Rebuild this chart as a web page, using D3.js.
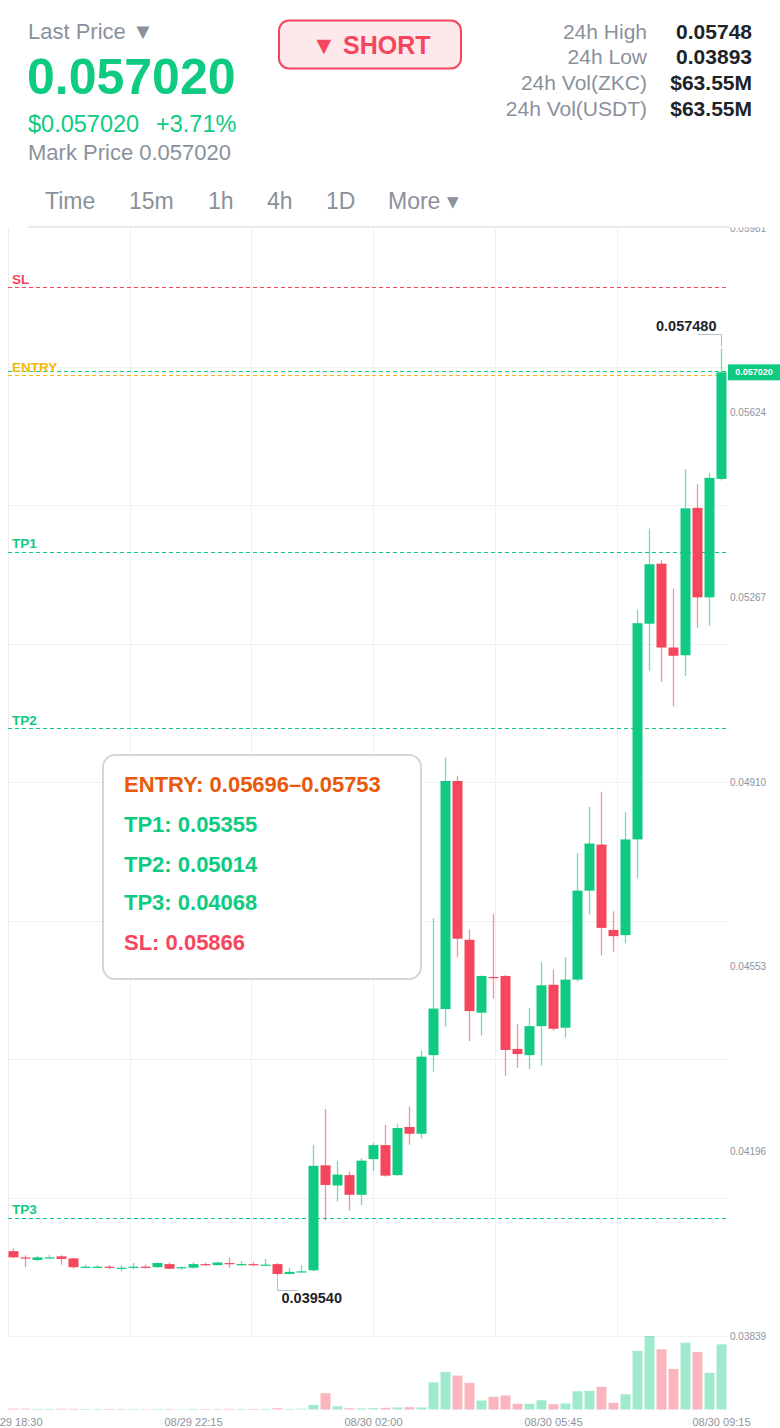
<!DOCTYPE html>
<html>
<head>
<meta charset="utf-8">
<script src="https://cdnjs.cloudflare.com/ajax/libs/d3/7.8.5/d3.min.js"></script>
<style>
html, body { margin: 0; padding: 0; background: #fff; overflow: hidden; }
svg { display: block; font-family: "Liberation Sans", Arial, Helvetica, sans-serif; }
</style>
</head>
<body>
<div id="chart"></div>
<script>
// candle data, 15m bars from 08/29 18:30 to 08/30 09:15
const openP = [0.04003, 0.03991, 0.03986, 0.03989, 0.03993, 0.03989, 0.03972, 0.03972, 0.03973, 0.03970,
  0.03972, 0.03973, 0.03972, 0.03978, 0.03971, 0.03971, 0.03978, 0.03976, 0.03980, 0.03977,
  0.03978, 0.03976, 0.03978, 0.03959, 0.03962, 0.03966, 0.04169, 0.04130, 0.04150, 0.04112,
  0.04181, 0.04208, 0.04150, 0.04243, 0.04230, 0.04382, 0.04471, 0.04912, 0.04605, 0.04464,
  0.04533, 0.04535, 0.04394, 0.04382, 0.04438, 0.04518, 0.04435, 0.04528, 0.04700, 0.04789,
  0.04624, 0.04614, 0.04799, 0.05216, 0.05332, 0.05170, 0.05155, 0.05440, 0.05267, 0.05496];
const highP = [0.04008, 0.03995, 0.03994, 0.03996, 0.03995, 0.03990, 0.03977, 0.03976, 0.03976, 0.03975,
  0.03980, 0.03977, 0.03981, 0.03981, 0.03973, 0.03982, 0.03981, 0.03982, 0.03991, 0.03984,
  0.03982, 0.03988, 0.03980, 0.03971, 0.03976, 0.04208, 0.04278, 0.04178, 0.04157, 0.04183,
  0.04212, 0.04247, 0.04250, 0.04283, 0.04390, 0.04647, 0.04957, 0.04922, 0.04625, 0.04536,
  0.04655, 0.04537, 0.04442, 0.04473, 0.04562, 0.04548, 0.04572, 0.04773, 0.04862, 0.04891,
  0.04660, 0.04852, 0.05243, 0.05400, 0.05339, 0.05284, 0.05515, 0.05486, 0.05507, 0.05748];
const lowP = [0.03990, 0.03972, 0.03984, 0.03988, 0.03977, 0.03969, 0.03971, 0.03971, 0.03968, 0.03964,
  0.03968, 0.03969, 0.03971, 0.03968, 0.03967, 0.03969, 0.03975, 0.03976, 0.03971, 0.03975,
  0.03973, 0.03976, 0.03954, 0.03958, 0.03962, 0.03964, 0.04062, 0.04099, 0.04081, 0.04092,
  0.04158, 0.04147, 0.04149, 0.04209, 0.04221, 0.04350, 0.04437, 0.04571, 0.04409, 0.04420,
  0.04491, 0.04342, 0.04357, 0.04355, 0.04362, 0.04429, 0.04416, 0.04524, 0.04654, 0.04575,
  0.04582, 0.04598, 0.04724, 0.05125, 0.05104, 0.05056, 0.05115, 0.05208, 0.05212, 0.05493];
const closeP = [0.03991, 0.03989, 0.03991, 0.03991, 0.03988, 0.03972, 0.03973, 0.03973, 0.03971, 0.03971,
  0.03973, 0.03972, 0.03980, 0.03969, 0.03972, 0.03978, 0.03977, 0.03981, 0.03979, 0.03978,
  0.03976, 0.03977, 0.03959, 0.03963, 0.03964, 0.04168, 0.04131, 0.04151, 0.04112, 0.04178,
  0.04208, 0.04149, 0.04241, 0.04230, 0.04379, 0.04472, 0.04912, 0.04607, 0.04467, 0.04535,
  0.04531, 0.04392, 0.04384, 0.04438, 0.04517, 0.04433, 0.04528, 0.04700, 0.04791, 0.04628,
  0.04612, 0.04799, 0.05217, 0.05331, 0.05170, 0.05154, 0.05439, 0.05267, 0.05498, 0.05702];
const volumes = [45, 40, 35, 30, 40, 35, 25, 25, 30, 25,
  30, 20, 30, 25, 20, 30, 25, 25, 35, 25,
  30, 30, 65, 30, 40, 230, 815, 165, 65, 50,
  65, 85, 100, 115, 100, 1365, 1885, 1700, 1335, 450,
  635, 700, 285, 285, 465, 265, 300, 915, 935, 1135,
  335, 765, 2935, 3685, 3015, 2035, 3350, 2885, 1835, 3265];

const priceTicks = [0.05981, 0.05624, 0.05267, 0.04910, 0.04553, 0.04196, 0.03839];
const timeTickLabels = ["08/29 18:30", "08/29 22:15", "08/30 02:00", "08/30 05:45", "08/30 09:15"];
const levelNames = ["SL", "ENTRY", "TP1", "TP2", "TP3"];
const levelValues = [0.05866, 0.05696, 0.05355, 0.05014, 0.04068];
const levelColors = ["#f6465d", "#f0b90b", "#0ecb81", "#0ecb81", "#0ecb81"];
const boxLines = ["ENTRY: 0.05696\u20130.05753", "TP1: 0.05355", "TP2: 0.05014", "TP3: 0.04068", "SL: 0.05866"];
const boxColors = ["#e8590c", "#0ecb81", "#0ecb81", "#0ecb81", "#f6465d"];
const statLabels = ["24h High", "24h Low", "24h Vol(ZKC)", "24h Vol(USDT)"];
const statValues = ["0.05748", "0.03893", "$63.55M", "$63.55M"];
const tabs = ["Time", "15m", "1h", "4h", "1D", "More \u25BE"];
const lastPrice = 0.05702;
const highMark = 0.05748;
const lowMark = 0.03954;

const W = 780, H = 1428;
const green = "#0ecb81", red = "#f6465d", grey = "#8a919c", dark = "#1e2329";

const svg = d3.select("#chart").append("svg")
  .attr("width", W)
  .attr("height", H);

// ---------- header ----------
const head = svg.append("g");
head.append("text").attr("x", 28).attr("y", 38.5)
  .attr("font-size", 22).attr("fill", grey).text("Last Price \u25BC");
head.append("text").attr("x", 27).attr("y", 94)
  .attr("font-size", 50).attr("font-weight", "bold").attr("fill", green)
  .text(lastPrice.toFixed(6));
head.append("text").attr("x", 28).attr("y", 131.5)
  .attr("font-size", 23.5).attr("fill", green).text("$" + lastPrice.toFixed(6));
head.append("text").attr("x", 156).attr("y", 131.5)
  .attr("font-size", 23.5).attr("fill", green).text("+3.71%");
head.append("text").attr("x", 28).attr("y", 160)
  .attr("font-size", 22).attr("fill", grey).text("Mark Price " + lastPrice.toFixed(6));

// short button
head.append("rect").attr("x", 279).attr("y", 20.5).attr("width", 182).attr("height", 48)
  .attr("rx", 10).attr("fill", "#fde8eb").attr("stroke", red).attr("stroke-width", 2);
head.append("text").attr("x", 371).attr("y", 54).attr("text-anchor", "middle")
  .attr("font-size", 25).attr("font-weight", "bold").attr("fill", red).text("\u25BC SHORT");

// 24h stats
const statY = [38.5, 64, 90, 115.5];
head.selectAll(".slab").data(statLabels).enter().append("text")
  .attr("x", 647).attr("y", (d, i) => statY[i]).attr("text-anchor", "end")
  .attr("font-size", 21).attr("fill", grey).text(d => d);
head.selectAll(".sval").data(statValues).enter().append("text")
  .attr("x", 752).attr("y", (d, i) => statY[i]).attr("text-anchor", "end")
  .attr("font-size", 21).attr("font-weight", "bold").attr("fill", dark).text(d => d);

// interval tabs
const tabX = [45, 129, 208, 267, 326, 388];
head.selectAll(".tab").data(tabs).enter().append("text")
  .attr("x", (d, i) => tabX[i]).attr("y", 209)
  .attr("font-size", 23).attr("fill", grey).text(d => d);

// ---------- scales ----------
const fmt = d3.timeFormat("%m/%d %H:%M");
const times = d3.timeMinute.every(15).range(new Date(2025, 7, 29, 18, 30), new Date(2025, 7, 30, 9, 16));
const candles = times.map((t, i) => ({
  key: fmt(t), o: openP[i], h: highP[i], l: lowP[i], c: closeP[i], v: volumes[i]
}));

const plotLeft = 8, plotRight = 727, plotTop = 228, plotBottom = 1336, volBottom = 1409.5;
const x = d3.scaleBand().domain(candles.map(d => d.key)).range([7.5, 727.5]).padding(0);
const y = d3.scaleLinear().domain([0.03839, 0.05981]).range([plotBottom, plotTop]);
const yv = d3.scaleLinear().domain([0, d3.max(volumes)]).range([volBottom, plotBottom]);
const cx = d => x(d.key) + x.bandwidth() / 2;
const bodyW = x.bandwidth() - 2;
const crisp = v => Math.round(v) + 0.5;

// ---------- grid ----------
const grid = svg.append("g").attr("stroke", "#f0f1f3").attr("stroke-width", 1);
d3.range(1, 9).forEach(k => {
  const gy = crisp(plotTop + (plotBottom - plotTop) * k / 8);
  grid.append("line").attr("x1", plotLeft).attr("x2", plotRight).attr("y1", gy).attr("y2", gy);
});
d3.range(0, 6).forEach(k => {
  const gx = crisp(plotLeft + k * 121.7);
  grid.append("line").attr("x1", gx).attr("x2", gx).attr("y1", plotTop).attr("y2", plotBottom)
    .attr("stroke", k === 0 ? "#eceef1" : "#f0f1f3");
});

// ---------- volume ----------
svg.append("g").selectAll("rect").data(candles).enter().append("rect")
  .attr("x", d => cx(d) - bodyW / 2)
  .attr("width", bodyW)
  .attr("y", d => yv(d.v))
  .attr("height", d => volBottom - yv(d.v))
  .attr("fill", d => d.c >= d.o ? green : red)
  .attr("fill-opacity", 0.4);

// ---------- level lines ----------
const levels = svg.append("g");
levelValues.forEach((v, i) => {
  levels.append("line").attr("x1", plotLeft).attr("x2", plotRight)
    .attr("y1", crisp(y(v))).attr("y2", crisp(y(v)))
    .attr("stroke", levelColors[i]).attr("stroke-width", 1.1).attr("stroke-dasharray", "4,3");
});
// last price line
levels.append("line").attr("x1", plotLeft).attr("x2", plotRight)
  .attr("y1", crisp(y(lastPrice)) - 1).attr("y2", crisp(y(lastPrice)) - 1)
  .attr("stroke", green).attr("stroke-width", 1.1).attr("stroke-dasharray", "4,3");
levelValues.forEach((v, i) => {
  levels.append("text").attr("x", 12).attr("y", y(v) - 3.5)
    .attr("font-size", 13.5).attr("font-weight", "bold").attr("fill", levelColors[i])
    .text(levelNames[i]);
});

// ---------- candles ----------
const cg = svg.append("g").selectAll("g").data(candles).enter().append("g");
cg.append("line")
  .attr("x1", cx).attr("x2", cx)
  .attr("y1", d => y(d.h)).attr("y2", d => y(d.l))
  .attr("stroke", d => d.c >= d.o ? green : red)
  .attr("stroke-width", 1.3).attr("stroke-opacity", 0.6);
cg.append("rect")
  .attr("x", d => cx(d) - bodyW / 2)
  .attr("width", bodyW)
  .attr("y", d => y(Math.max(d.o, d.c)))
  .attr("height", d => Math.max(1.2, Math.abs(y(d.o) - y(d.c))))
  .attr("fill", d => d.c >= d.o ? green : red);

// high / low marks
const hiC = candles[highP.indexOf(highMark)];
const loC = candles[lowP.indexOf(lowMark)];
const marks = svg.append("g");
marks.append("path")
  .attr("d", `M${cx(hiC) - 24},${y(highMark) - 14} H${cx(hiC)} V${y(highMark) - 2}`)
  .attr("fill", "none").attr("stroke", "#b7bcc4").attr("stroke-width", 1);
marks.append("text").attr("x", cx(hiC) - 5).attr("y", y(highMark) - 18)
  .attr("text-anchor", "end").attr("font-size", 14.5).attr("font-weight", "bold")
  .attr("fill", dark).text(highMark.toFixed(6));
marks.append("path")
  .attr("d", `M${cx(loC)},${y(lowMark) + 1} V${y(lowMark) + 14} H${cx(loC) + 20}`)
  .attr("fill", "none").attr("stroke", "#b7bcc4").attr("stroke-width", 1);
marks.append("text").attr("x", cx(loC) + 4).attr("y", y(lowMark) + 26.5)
  .attr("font-size", 14.5).attr("font-weight", "bold")
  .attr("fill", dark).text(lowMark.toFixed(6));

// ---------- info box ----------
const box = svg.append("g");
box.append("rect").attr("x", 103).attr("y", 755).attr("width", 318).attr("height", 224)
  .attr("rx", 12).attr("fill", "#fff").attr("stroke", "#d3d6dc").attr("stroke-width", 2);
const boxY = [792, 832, 872, 910, 950];
box.selectAll("text").data(boxLines).enter().append("text")
  .attr("x", 124).attr("y", (d, i) => boxY[i])
  .attr("font-size", 22).attr("font-weight", "bold")
  .attr("fill", (d, i) => boxColors[i]).text(d => d);

// ---------- price axis ----------
svg.append("defs").append("clipPath").attr("id", "axclip")
  .append("rect").attr("x", 0).attr("y", 227.5).attr("width", W).attr("height", H);
svg.append("g").attr("clip-path", "url(#axclip)")
  .selectAll("text").data(priceTicks).enter().append("text")
  .attr("x", 730).attr("y", d => y(d)).attr("dy", "0.35em")
  .attr("font-size", 10).attr("fill", "#8d939e")
  .text(d => d.toFixed(5));

// last price tag
svg.append("rect").attr("x", 728).attr("y", y(lastPrice) - 8).attr("width", 52).attr("height", 16)
  .attr("fill", green);
svg.append("text").attr("x", 754).attr("y", y(lastPrice)).attr("dy", "0.35em")
  .attr("text-anchor", "middle").attr("font-size", 9).attr("font-weight", "bold")
  .attr("fill", "#fff").text(lastPrice.toFixed(6));

// tab underline / chart top border
svg.append("line").attr("x1", 28).attr("x2", 730).attr("y1", 227).attr("y2", 227)
  .attr("stroke", "#e9ebef").attr("stroke-width", 2);

// ---------- time axis ----------
svg.append("g").selectAll("text").data(timeTickLabels).enter().append("text")
  .attr("x", d => cx(candles.find(c => c.key === d)))
  .attr("y", 1422).attr("dy", "0.35em")
  .attr("text-anchor", "middle").attr("font-size", 11).attr("fill", "#8d939e")
  .text(d => d);
</script>
</body>
</html>
